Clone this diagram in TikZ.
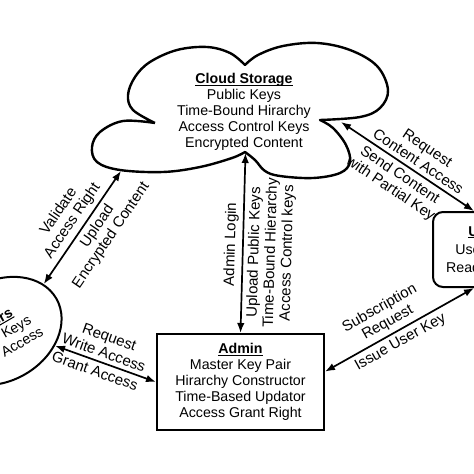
\documentclass[tikz,border=0pt]{standalone}
\usepackage{fontspec}
\setmainfont{Liberation Sans}
\usetikzlibrary{arrows.meta,shapes.geometric}
\newcommand\myul[1]{\setbox0\hbox{#1}\rlap{\rule[-2pt]{\wd0}{1pt}}\box0}
\begin{document}
\begin{tikzpicture}[x=1pt,y=-1pt,
  txt/.style={font=\fontsize{14.2}{16}\selectfont, align=center, inner sep=1.5pt},
  conn/.style={line width=1.7pt, {Latex[length=10pt,width=7.5pt]}-{Latex[length=10pt,width=7.5pt]}},
  lab/.style={font=\fontsize{15}{16.5}\selectfont, align=center, sloped, inner sep=4pt},
  shapeline/.style={line width=2pt}]
\useasboundingbox (0,0) rectangle (474,474);
\clip (0,0) rectangle (474,474);
% cloud outline
\draw[line width=2.4pt, line join=round]
  plot[smooth,tension=0.6] coordinates {(155,123) (133,110) (128,95) (135,77) (150,62) (177,50) (207,47) (230,53) (245,65)}
  -- plot[smooth,tension=0.6] coordinates {(245,65) (258,55) (283,46) (317,43) (350,50) (377,66) (388,90) (380,108) (360,117) (320,120)}
  -- plot[smooth,tension=0.6] coordinates {(320,120) (333,128) (346,145) (350,162) (340,173) (313,178) (280,176) (265,171) (255,160) (245,152)}
  -- plot[smooth,tension=0.6] coordinates {(245,152) (232,158) (200,167) (163,172) (120,170) (97,162) (92,147) (100,132) (123,121) (155,123)};
\node[txt] (cloud) at (244,112) {\myul{\textbf{Cloud Storage}}\\Public Keys\\Time-Bound Hirarchy\\Access Control Keys\\Encrypted Content};
\coordinate (cl-sw) at (121,171);
\coordinate (cl-s) at (245.5,153);
\coordinate (cl-e) at (341,122);
% admin
\node[draw, shapeline, minimum width=167pt, minimum height=96pt, txt] (admin) at (240.5,382)
  {\myul{\textbf{Admin}}\\Master Key Pair\\Hirarchy Constructor\\Time-Based Updator\\Access Grant Right};
% users (cut off at right)
\node[draw, shapeline, rounded corners=10pt, minimum width=110pt, minimum height=75pt, txt,
  font=\fontsize{14.2}{18}\selectfont] (users) at (488,249.5) {\myul{\textbf{Users}}\\User Keys\\Read Access};
% writers (cut off at left)
\node[draw, shapeline, ellipse, minimum width=130pt, minimum height=100pt, rotate=30] (writer) at (0,331) {};
\node[txt, rotate=30] (writertext) at (-2,337) {\myul{\textbf{Writers}}\\Writer Keys\\Write Access};
% connectors
\draw[conn] (cl-sw) -- node[lab,above,pos=0.5]{Validate\\Access Right}
  node[lab,below,pos=0.43]{Upload\\Encrypted Content} (writer.17);
\draw[conn] (cl-s) -- node[lab,above,pos=0.51]{Admin Login}
  node[lab,below,pos=0.55]{Upload Public Keys\\Time-Bound Hierarchy\\Access Control keys} (admin.north);
\draw[conn] (cl-e) -- node[lab,above,pos=0.54]{Request\\Content Access}
  node[lab,below,pos=0.49]{Send Content\\with Partial Key} (users.110);
\draw[conn] (admin.7) -- node[lab,above,pos=0.46]{Subscription\\Request}
  node[lab,below,pos=0.47]{Issue User Key} (users.-110);
\draw[conn] (writer.-45) -- node[lab,above,pos=0.45]{Request\\Write Access}
  node[lab,below,pos=0.43]{Grant Access} (admin.west);
\end{tikzpicture}
\end{document}
